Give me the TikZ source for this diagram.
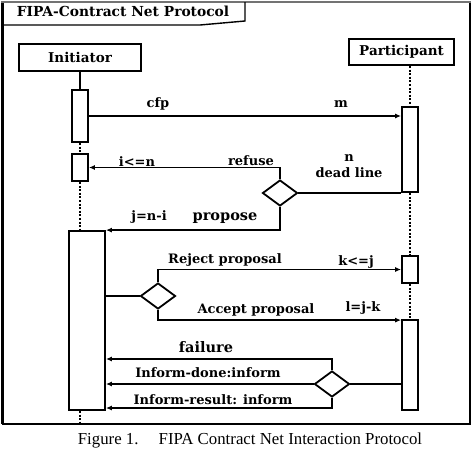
\documentclass[tikz,border=0pt]{standalone}
\usepackage{fontspec}
\setmainfont{DejaVu Serif}
\newfontfamily\capfont{Liberation Serif}
\usetikzlibrary{shapes.geometric,arrows.meta}
\tikzset{
  lbl/.style={font=\fontsize{13}{14}\selectfont\bfseries, inner sep=0pt},
  big/.style={font=\fontsize{14.5}{16}\selectfont\bfseries, inner sep=0pt},
  hdr/.style={draw, line width=1.8pt, inner sep=0pt, font=\fontsize{13.5}{14}\selectfont\bfseries},
  act/.style={draw, line width=1.8pt, inner sep=0pt, minimum width=16pt, fill=white},
  dia/.style={draw, diamond, line width=1.8pt, inner sep=0pt, minimum width=35pt, minimum height=26pt, aspect=1.35},
  msg/.style={line width=1.4pt, -{Latex[length=6pt,width=5pt]}},
  ln/.style={line width=1.4pt},
  life/.style={line width=2.6pt, dash pattern=on 2pt off 1.6pt},
}
\begin{document}
\begin{tikzpicture}[x=1pt,y=-1pt]
\useasboundingbox (0,0) rectangle (474,450);
% frame
\draw[line width=1.6pt] (470,2) -- (470,424) -- (2,424);
\draw[line width=3pt] (2,1) -- (2,424);
\draw[line width=2pt, black!55] (1,1.5) -- (471,1.5);
\draw[line width=1.4pt] (2,25) -- (200,25) -- (245,21) -- (245,2);
\node[font=\fontsize{13.8}{15}\selectfont\bfseries, inner sep=0pt] (title) at (123,11) {FIPA-Contract Net Protocol};
% headers
\node[hdr, minimum width=122pt, minimum height=27pt] (ini) at (80,57.5) {Initiator};
\node[hdr, minimum width=105pt, minimum height=26pt] (par) at (401.5,52) {Participant};
% activations initiator
\node[act, minimum height=52pt] (ia1) at (80,116) {};
\node[act, minimum height=27pt] (ia2) at (80,167.5) {};
\node[act, minimum width=36pt, minimum height=179pt] (ib) at (87,320.5) {};
% activations participant
\node[act, minimum height=85pt] (pa1) at (410,149.5) {};
\node[act, minimum height=27pt] (pa2) at (410,269.5) {};
\node[act, minimum height=90pt] (pa3) at (410,365) {};
% lifelines
\coordinate (bot) at (0,423);
\draw[ln, line width=1.8pt] (ini.south) -- (ia1.north);
\draw[life] (ia1.south) -- (ia2.north);
\draw[life] (ia2.south) -- (ia2.south |- ib.north);
\draw[life] (ia2.south |- ib.south) -- (ia2.south |- bot);
\draw[life] (pa1.north |- par.south) -- (pa1.north);
\draw[life] (pa1.south) -- (pa2.north);
\draw[life] (pa2.south) -- (pa3.north);
% diamonds
\node[dia] (d1) at (280,193) {};
\node[dia] (d2) at (158,296) {};
\node[dia] (d3) at (332,384) {};
% messages
\draw[msg] (ia1.east) -- (pa1.west |- ia1.east);
\draw[ln] (pa1.west |- d1.east) -- (d1.east);
\draw[msg] (d1.north) |- (ia2.east);
\draw[msg] (d1.south) |- (ib.north east);
\draw[ln] (ib.east |- d2.west) -- (d2.west);
\draw[msg] (d2.north) |- (pa2.west);
\draw[msg] (d2.south) |- ([yshift=-1pt]pa3.north west);
\coordinate (fy) at (0,359);
\coordinate (ry) at (0,408);
\draw[ln] (pa3.west |- d3.east) -- (d3.east);
\draw[msg] (d3.north) |- (ib.east |- fy);
\draw[msg] (d3.west) -- (ib.east |- d3.west);
\draw[msg] (d3.south) |- (ib.east |- ry);
% labels
\node[lbl] (lcfp) at (158,104) {cfp};
\node[lbl] (lm) at (341,104) {m};
\node[lbl] (lin) at (137,162) {i<=n};
\node[lbl] (lref) at (251,161) {refuse};
\node[lbl] (ln1) at (349,158) {n};
\node[lbl] (ldl) at (349,173) {dead line};
\node[lbl] (ljn) at (149,217) {j=n-i};
\node[big] (lprop) at (225,218) {propose};
\node[lbl] (lrej) at (225,260) {Reject proposal};
\node[lbl] (lkj) at (356,262) {k<=j};
\node[lbl] (lacc) at (256,310) {Accept proposal};
\node[lbl] (llj) at (363,308) {l=j-k};
\node[big] (lfail) at (206,347) {failure};
\node[lbl] (ldone) at (208,373) {Inform-done:inform};
\node[lbl] (lres) at (213,400) {Inform-result: inform};
% caption
\node[font=\capfont\fontsize{16.8}{18}\selectfont, inner sep=0pt] (cap) at (250,440) {Figure 1.\hspace{1.2em}FIPA Contract Net Interaction Protocol};
\end{tikzpicture}
\end{document}
